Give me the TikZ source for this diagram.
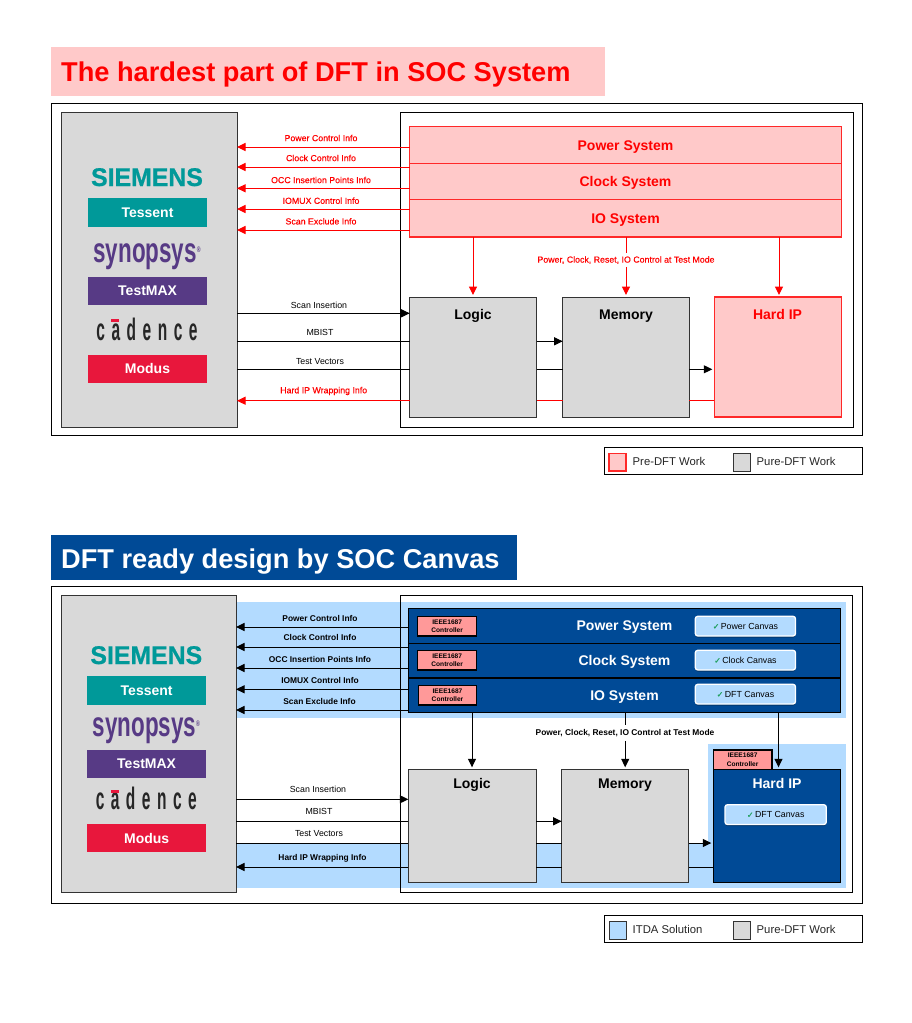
\documentclass[tikz,border=0pt]{standalone}
\usepackage{fontspec}
\setmainfont{Liberation Sans}
\newfontfamily\medfont[FakeBold=0.25]{Liberation Sans}
\newfontfamily\cadfont[LetterSpace=42]{Liberation Sans Bold}
\newfontfamily\siefont[FakeBold=0.7]{Liberation Sans Bold}
\newfontfamily\checkfont[FakeBold=0.8]{DejaVu Sans}
\usetikzlibrary{arrows.meta,shadows}
\definecolor{pinkf}{HTML}{FFC9C9}
\definecolor{redl}{HTML}{FF2828}
\definecolor{redt}{HTML}{FF0000}
\definecolor{greyf}{HTML}{D9D9D9}
\definecolor{greyl}{HTML}{333333}
\definecolor{navy}{HTML}{004A96}
\definecolor{band}{HTML}{B3DBFF}
\definecolor{ctrl}{HTML}{FF9999}
\definecolor{teal1}{HTML}{009999}
\definecolor{purple1}{HTML}{573A85}
\definecolor{modus}{HTML}{E8173C}
\definecolor{check}{HTML}{22A060}
\newcommand{\fsz}[1]{\fontsize{#1}{#1}\selectfont}
\newcommand{\bx}[7]{%
  \pgfmathsetmacro\bw{#4-#2}\pgfmathsetmacro\bh{#5-#3}%
  \node[basebox,#6,minimum width=\bw pt,minimum height=\bh pt] (#1) at ({(#2+#4)/2},{(#3+#5)/2}) {#7};}
\newcommand{\okmark}{{\checkfont\color{check}\fsz{8}✓}\,}
\tikzset{
  basebox/.style={inner sep=0pt,outer sep=0pt,align=center},
  frame/.style={draw=black,line width=1pt},
  greybox/.style={draw=greyl,fill=greyf,line width=1pt},
  prebox/.style={draw=redl,fill=pinkf,line width=1.3pt},
  navybox/.style={draw=black,fill=navy,line width=1.2pt},
  bandbox/.style={fill=band},
  brand/.style={text=white,font=\bfseries\fsz{14}},
  head/.style={font=\bfseries\fsz{14},text height=10pt,text depth=0pt},
  titletext/.style={anchor=west,inner sep=0pt,font=\bfseries\fsz{27.2},text height=20pt,text depth=0pt},
  small/.style={font=\fsz{8.8}},
  smallred/.style={font=\medfont\fsz{8.8},text=redt},
  smallblk/.style={font=\bfseries\fsz{8.4},text=black},
  legend/.style={font=\fsz{11.3},anchor=west,inner sep=0pt,text=black!85},
  ctrlbox/.style={draw=black,fill=ctrl,line width=1.1pt,font=\bfseries\fsz{6.6}},
  canvasbtn/.style={draw=white,fill=band,line width=1.3pt,rounded corners=2.5pt,font=\fsz{8.8},
    drop shadow={shadow xshift=0pt,shadow yshift=-1.6pt,opacity=.3,fill=black}},
  redarrow/.style={draw=redt,line width=1pt,-{Triangle[length=8.5pt,width=8pt]}},
  redline/.style={draw=redt,line width=1pt},
  blkarrow/.style={draw=black,line width=1pt,-{Triangle[length=8.5pt,width=8pt]}},
  blkline/.style={draw=black,line width=1pt},
  logoS/.style={anchor=base,text=teal1,font=\siefont\fsz{25.6}},
  logoY/.style={anchor=base,text=purple1,font=\bfseries\fsz{35}},
  logoC/.style={anchor=base,text=black!85,font=\cadfont\fsz{31}},
}
\begin{document}
\begin{tikzpicture}[x=1pt,y=-1pt]
\useasboundingbox[fill=white] (0,0) rectangle (912,1023);

% ===== upper panel =====
\bx{t1}{51}{47}{605}{96}{fill=pinkf}{}
\node[titletext,text=redt] (t1t) at (61,71.5) {The hardest part of DFT in SOC System};
\bx{f1}{51}{103}{862}{435.5}{frame}{}
\bx{in1}{400.3}{112.7}{853}{427.3}{frame}{}
\bx{left1}{61.7}{112.7}{237}{427.3}{greybox}{}

\node[logoS] (sie1) at (147,186) {\scalebox{.97}[1]{SIEMENS}};
\bx{tes1}{88}{198}{207}{227}{fill=teal1,brand}{Tessent}
\node[logoY] (syn1) at (147,262) {\scalebox{.64}[1]{synopsys{\raisebox{10pt}{\fsz{8}®}}}};
\bx{max1}{88.3}{276.7}{207}{305}{fill=purple1,brand}{TestMAX}
\node[logoC] (cad1) at (147,340) {\scalebox{.5}[1]{cadence}};
\fill[modus] (111.3,318.7) rectangle (119,321.5);
\bx{mod1}{88}{354.7}{207}{383}{fill=modus,brand}{Modus}

\bx{pow1}{409.7}{126.7}{841.3}{163.3}{prebox,head,text=redt}{Power System}
\bx{clk1}{409.7}{163.3}{841.3}{199.7}{prebox,head,text=redt}{Clock System}
\bx{io1}{409.7}{199.7}{841.3}{237}{prebox,head,text=redt}{IO System}
\bx{log1}{409.7}{297}{536.5}{417}{greybox}{}
\bx{mem1}{562.7}{297}{689.3}{417}{greybox}{}
\bx{hip1}{714.3}{297}{841.3}{417}{prebox}{}
\node[head] (log1t) at (473,314.5) {Logic};
\node[head] (mem1t) at (626,314.5) {Memory};
\node[head,text=redt] (hip1t) at (777.5,314.5) {Hard IP};

\foreach \n/\y in {a/147,b/167,c/188.3,d/209,e/230,s/313.3,m/341.3,v/369.3,w/400.7}{\coordinate (y1\n) at (0,\y);}
\draw[redarrow] (pow1.west |- y1a) -- (left1.east |- y1a);
\draw[redarrow] (clk1.west |- y1b) -- (left1.east |- y1b);
\draw[redarrow] (clk1.west |- y1c) -- (left1.east |- y1c);
\draw[redarrow] (io1.west |- y1d) -- (left1.east |- y1d);
\draw[redarrow] (io1.west |- y1e) -- (left1.east |- y1e);
\node[smallred] (l1a) at (321,138) {Power Control Info};
\node[smallred] (l1b) at (321,158) {Clock Control Info};
\node[smallred] (l1c) at (321,180) {OCC Insertion Points Info};
\node[smallred] (l1d) at (321,200.7) {IOMUX Control Info};
\node[smallred] (l1e) at (321,221.3) {Scan Exclude Info};

\coordinate (x1a) at (473,0);\coordinate (x1b) at (779,0);
\draw[redarrow,shorten >=2pt] (io1.south -| x1a) -- (log1.north -| x1a);
\draw[redarrow,shorten >=2pt] (io1.south -| x1b) -- (hip1.north -| x1b);
\node[smallred,inner xsep=2pt,inner ysep=3pt] (l1c2) at (626,260) {Power, Clock, Reset, IO Control at Test Mode};
\draw[redline] (io1.south -| mem1.north) -- (l1c2.north -| mem1.north);
\draw[redarrow,shorten >=2pt] (l1c2.south -| mem1.north) -- (mem1.north);

\draw[blkarrow] (left1.east |- y1s) -- (log1.west |- y1s);
\draw[blkline] (left1.east |- y1m) -- (log1.west |- y1m);
\draw[blkarrow] (log1.east |- y1m) -- (mem1.west |- y1m);
\draw[blkline] (left1.east |- y1v) -- (log1.west |- y1v);
\draw[blkline] (log1.east |- y1v) -- (mem1.west |- y1v);
\draw[blkarrow,shorten >=2pt] (mem1.east |- y1v) -- (hip1.west |- y1v);
\draw[redarrow] (log1.west |- y1w) -- (left1.east |- y1w);
\draw[redline] (mem1.west |- y1w) -- (log1.east |- y1w);
\draw[redline] (hip1.west |- y1w) -- (mem1.east |- y1w);
\node[small] (l1s) at (319,305.5) {Scan Insertion};
\node[small] (l1m) at (320,332.7) {MBIST};
\node[small] (l1v) at (320,362) {Test Vectors};
\node[smallred] (l1w) at (323.7,391) {Hard IP Wrapping Info};

\bx{lg1}{604.3}{447.7}{862}{474.3}{frame}{}
\bx{sw1a}{609}{453.3}{626}{471}{prebox}{}
\node[legend] (sw1at) at (632.5,461.5) {Pre-DFT Work};
\bx{sw1b}{733.5}{453.3}{750.5}{471}{greybox}{}
\node[legend] (sw1bt) at (756.5,461) {Pure-DFT Work};

% ===== lower panel =====
\bx{t2}{51}{535}{517}{580}{fill=navy}{}
\node[titletext,text=white] (t2t) at (61,558) {DFT ready design by SOC Canvas};
\bx{f2}{51}{586.5}{862}{903}{frame}{}
\bx{b2a}{236}{602.3}{846}{718.3}{bandbox}{}
\bx{b2b}{707.7}{744.3}{846}{888.3}{bandbox}{}
\bx{b2c}{236}{843.3}{707.7}{888.3}{bandbox}{}
\bx{in2}{400}{595.3}{852.3}{892.7}{frame}{}
\bx{left2}{61.3}{595.3}{236}{892.7}{greybox}{}

\node[logoS] (sie2) at (146.3,664) {\scalebox{.97}[1]{SIEMENS}};
\bx{tes2}{87.3}{676.3}{206}{705}{fill=teal1,brand}{Tessent}
\node[logoY] (syn2) at (146.3,736) {\scalebox{.64}[1]{synopsys{\raisebox{10pt}{\fsz{8}®}}}};
\bx{max2}{87.3}{750}{206}{778}{fill=purple1,brand}{TestMAX}
\node[logoC] (cad2) at (146.3,809) {\scalebox{.5}[1]{cadence}};
\fill[modus] (110.7,790.3) rectangle (118.5,793);
\bx{mod2}{87.3}{824}{206}{852}{fill=modus,brand}{Modus}

\bx{pow2}{408.3}{608.3}{840.7}{643.3}{navybox,head,text=white}{Power System}
\bx{clk2}{408.3}{643.3}{840.7}{678}{navybox,head,text=white}{Clock System}
\bx{io2}{408.3}{678}{840.7}{712.7}{navybox,head,text=white}{IO System}
\bx{c2a}{417.7}{616.7}{476.7}{636}{ctrlbox}{IEEE1687\\[1.6pt]Controller}
\bx{c2b}{417.7}{650.3}{476.7}{670}{ctrlbox}{IEEE1687\\[1.6pt]Controller}
\bx{c2c}{418.3}{685.7}{476.7}{705}{ctrlbox}{IEEE1687\\[1.6pt]Controller}
\bx{v2a}{695.3}{616.3}{795.5}{636}{canvasbtn}{\okmark Power Canvas}
\bx{v2b}{695.3}{650.3}{795.5}{670}{canvasbtn}{\okmark Clock Canvas}
\bx{v2c}{695.3}{684.3}{795.5}{704}{canvasbtn}{\okmark DFT Canvas}

\bx{log2}{408.3}{769.3}{536}{882.7}{greybox}{}
\bx{mem2}{561.7}{769.3}{688.7}{882.7}{greybox}{}
\bx{hip2}{713.3}{769.3}{840.7}{882.7}{navybox}{}
\node[head] (log2t) at (472,783.5) {Logic};
\node[head] (mem2t) at (625,783.5) {Memory};
\node[head,text=white] (hip2t) at (777,783.5) {Hard IP};
\bx{c2d}{713.3}{750}{772}{769.3}{ctrlbox}{IEEE1687\\[1.6pt]Controller}
\bx{v2d}{725}{804.7}{826.3}{824.5}{canvasbtn}{\okmark DFT Canvas}

\foreach \n/\y in {a/627,b/647,c/668,d/689.3,e/710,s/799.3,m/821.3,v/843,w/867}{\coordinate (y2\n) at (0,\y);}
\draw[blkarrow] (pow2.west |- y2a) -- (left2.east |- y2a);
\draw[blkarrow] (clk2.west |- y2b) -- (left2.east |- y2b);
\draw[blkarrow] (clk2.west |- y2c) -- (left2.east |- y2c);
\draw[blkarrow] (io2.west |- y2d) -- (left2.east |- y2d);
\draw[blkarrow] (io2.west |- y2e) -- (left2.east |- y2e);
\node[smallblk] (l2a) at (320,618.3) {Power Control Info};
\node[smallblk] (l2b) at (320,637.7) {Clock Control Info};
\node[smallblk] (l2c) at (320,659.3) {OCC Insertion Points Info};
\node[smallblk] (l2d) at (320,680.3) {IOMUX Control Info};
\node[smallblk] (l2e) at (319.5,701) {Scan Exclude Info};

\coordinate (x2a) at (472,0);\coordinate (x2b) at (778.5,0);
\draw[blkarrow,shorten >=2pt] (io2.south -| x2a) -- (log2.north -| x2a);
\draw[blkarrow,shorten >=2pt] (io2.south -| x2b) -- (hip2.north -| x2b);
\node[smallblk,inner xsep=2pt,inner ysep=4pt] (l2c2) at (625,733) {Power, Clock, Reset, IO Control at Test Mode};
\draw[blkline] (io2.south -| mem2.north) -- (l2c2.north -| mem2.north);
\draw[blkarrow,shorten >=2pt] (l2c2.south -| mem2.north) -- (mem2.north);

\draw[blkarrow] (left2.east |- y2s) -- (log2.west |- y2s);
\draw[blkline] (left2.east |- y2m) -- (log2.west |- y2m);
\draw[blkarrow] (log2.east |- y2m) -- (mem2.west |- y2m);
\draw[blkline] (left2.east |- y2v) -- (log2.west |- y2v);
\draw[blkline] (log2.east |- y2v) -- (mem2.west |- y2v);
\draw[blkarrow,shorten >=2pt] (mem2.east |- y2v) -- (hip2.west |- y2v);
\draw[blkarrow] (log2.west |- y2w) -- (left2.east |- y2w);
\draw[blkline] (mem2.west |- y2w) -- (log2.east |- y2w);
\draw[blkline] (hip2.west |- y2w) -- (mem2.east |- y2w);
\node[small] (l2s) at (318,789.5) {Scan Insertion};
\node[small] (l2m) at (319,811) {MBIST};
\node[small] (l2v) at (319,833.5) {Test Vectors};
\node[smallblk] (l2w) at (322.5,858) {Hard IP Wrapping Info};

\bx{lg2}{604.3}{915.7}{862}{942.7}{frame}{}
\bx{sw2a}{609}{921.5}{626}{939}{draw=greyl,fill=band,line width=1pt}{}
\node[legend] (sw2at) at (632.5,929.5) {ITDA Solution};
\bx{sw2b}{733.5}{921.5}{750.5}{939}{greybox}{}
\node[legend] (sw2bt) at (756.5,929.5) {Pure-DFT Work};
\end{tikzpicture}
\end{document}
